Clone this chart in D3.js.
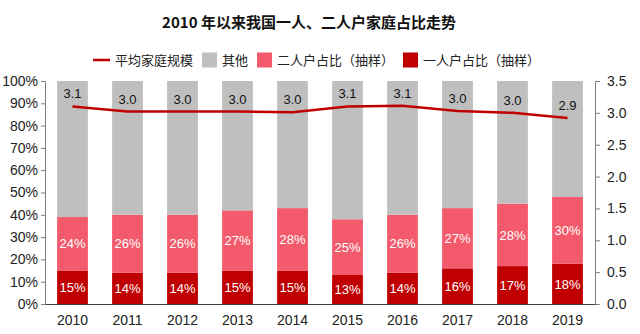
<!DOCTYPE html>
<html>
<head>
<meta charset="utf-8">
<script src="https://cdn.jsdelivr.net/npm/d3@7"></script>
<style>
  body { margin: 0; background: #fff; }
  svg { display: block; }
</style>
</head>
<body>
<svg id="chart" width="640" height="334"></svg>
<script>
// household share by year, percentages
var years = ['2010','2011','2012','2013','2014','2015','2016','2017','2018','2019'];
var onePerson = [15, 14, 14, 15, 15, 13, 14, 16, 17, 18];
var twoPerson = [24, 26, 26, 27, 28, 25, 26, 27, 28, 30];
// average household size (persons)
var avgSize = [3.10, 3.02, 3.02, 3.02, 3.01, 3.10, 3.11, 3.03, 3.00, 2.92];

var leftTicks = [0, 10, 20, 30, 40, 50, 60, 70, 80, 90, 100];
var rightTicks = [0, 0.5, 1.0, 1.5, 2.0, 2.5, 3.0, 3.5];

var colours = {other: '#BFBFBF', two: '#F35B6C', one: '#C00000', line: '#C00000'};
var fontLatin = 'Arial, "Liberation Sans", sans-serif';
var fontCJK = '"Noto Sans CJK SC", "Noto Sans", sans-serif';

var svg = d3.select('#chart');
var plot = {left: 45, right: 595, top: 81, bottom: 304};

var x = d3.scaleBand().domain(years).range([plot.left, plot.right]).paddingInner(0.44).paddingOuter(0.22);
var yPct = d3.scaleLinear().domain([0, 100]).range([plot.bottom, plot.top]);
var ySize = d3.scaleLinear().domain([0, 3.5]).range([plot.bottom, plot.top]);

// build stacked rows: one-person at bottom, then two-person, then the rest
var rows = years.map(function(y, i) {
  return {year: y, one: onePerson[i], two: twoPerson[i], other: 100 - onePerson[i] - twoPerson[i]};
});
var stack = d3.stack().keys(['one', 'two', 'other'])(rows);

var layers = svg.append('g').selectAll('g')
  .data(stack)
  .join('g')
  .attr('fill', function(d) { return colours[d.key]; });

layers.selectAll('rect')
  .data(function(d) { return d; })
  .join('rect')
  .attr('x', function(d) { return x(d.data.year); })
  .attr('width', x.bandwidth())
  .attr('y', function(d) { return yPct(d[1]); })
  .attr('height', function(d) { return yPct(d[0]) - yPct(d[1]); });

// white percentage labels inside the two red segments
stack.slice(0, 2).forEach(function(layer) {
  svg.append('g').selectAll('text')
    .data(layer)
    .join('text')
    .attr('x', function(d) { return x(d.data.year) + x.bandwidth() / 2; })
    .attr('y', function(d) { return (yPct(d[0]) + yPct(d[1])) / 2; })
    .attr('dy', '0.36em')
    .attr('text-anchor', 'middle')
    .attr('fill', '#fff')
    .style('font-family', fontLatin)
    .style('font-size', '13px')
    .text(function(d) { return d.data[layer.key] + '%'; });
});

// left axis
var leftAxis = svg.append('g')
  .attr('transform', 'translate(' + plot.left + ',0)')
  .call(d3.axisLeft(yPct).tickValues(leftTicks).tickSize(4).tickPadding(3).tickFormat(function(d) { return d + '%'; }));

// right axis
var rightAxis = svg.append('g')
  .attr('transform', 'translate(' + plot.right + ',0)')
  .call(d3.axisRight(ySize).tickValues(rightTicks).tickSize(5).tickPadding(7).tickFormat(d3.format('.1f')));

// bottom axis
var bottomAxis = svg.append('g')
  .attr('transform', 'translate(0,' + plot.bottom + ')')
  .call(d3.axisBottom(x).tickSize(0).tickPadding(8));

[leftAxis, rightAxis, bottomAxis].forEach(function(ax) {
  ax.select('.domain').attr('stroke', '#7f7f7f').attr('stroke-width', 1);
  ax.selectAll('.tick line').attr('stroke', '#7f7f7f');
  ax.selectAll('text')
    .attr('fill', '#222')
    .style('font-family', fontLatin)
    .style('font-size', '14px');
});
bottomAxis.select('.domain').attr('stroke', '#404040');
bottomAxis.selectAll('text').attr('dy', '0.9em');

// average household size line
var line = d3.line()
  .x(function(d, i) { return x(years[i]) + x.bandwidth() / 2; })
  .y(function(d) { return ySize(d); });

svg.append('path')
  .datum(avgSize)
  .attr('d', line)
  .attr('fill', 'none')
  .attr('stroke', colours.line)
  .attr('stroke-width', 2.5);

svg.append('g').selectAll('text')
  .data(avgSize)
  .join('text')
  .attr('x', function(d, i) { return x(years[i]) + x.bandwidth() / 2; })
  .attr('y', function(d) { return ySize(d) - 8; })
  .attr('text-anchor', 'middle')
  .attr('fill', '#111')
  .style('font-family', fontLatin)
  .style('font-size', '13px')
  .text(function(d) { return d.toFixed(1); });

// title
svg.append('text')
  .attr('x', 309)
  .attr('y', 28)
  .attr('text-anchor', 'middle')
  .attr('fill', '#111')
  .style('font-family', fontCJK)
  .style('font-size', '15px')
  .style('font-weight', 'bold')
  .text('2010 年以来我国一人、二人户家庭占比走势');

// legend
var legendItems = [
  {label: '平均家庭规模', type: 'line', colour: colours.line, x: 93},
  {label: '其他', type: 'box', colour: colours.other, x: 202},
  {label: '二人户占比（抽样）', type: 'box', colour: colours.two, x: 257},
  {label: '一人户占比（抽样）', type: 'box', colour: colours.one, x: 403}
];
var legend = svg.append('g').attr('transform', 'translate(0,60)');
legendItems.forEach(function(item) {
  var g = legend.append('g').attr('transform', 'translate(' + item.x + ',0)');
  if (item.type === 'line') {
    g.append('line').attr('x1', 0).attr('x2', 17).attr('y1', 0).attr('y2', 0)
      .attr('stroke', item.colour).attr('stroke-width', 2.5);
  } else {
    g.append('rect').attr('x', 0).attr('y', -7.5).attr('width', 15).attr('height', 15)
      .attr('fill', item.colour);
  }
  g.append('text')
    .attr('x', item.type === 'line' ? 22 : 20)
    .attr('y', 0)
    .attr('dy', '0.36em')
    .attr('fill', '#222')
    .style('font-family', fontCJK)
    .style('font-size', '13px')
    .text(item.label);
});
</script>
</body>
</html>
